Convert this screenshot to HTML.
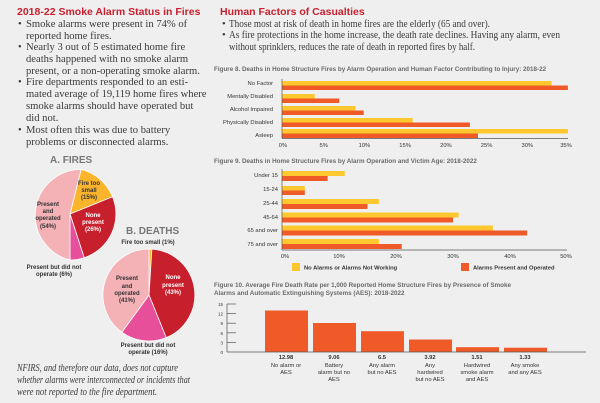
<!DOCTYPE html>
<html><head><meta charset="utf-8"><style>
html,body{margin:0;padding:0;background:#efefef;}
svg{display:block}
.s{font-family:"Liberation Serif",serif;font-size:10.6px;fill:#3a3a3a}
.h{font-family:"Liberation Sans",sans-serif;font-weight:bold;font-size:10.5px;fill:#c8202f}
.f{font-family:"Liberation Sans",sans-serif;font-weight:bold;font-size:6.3px;fill:#6a6a6a}
.l{font-family:"Liberation Sans",sans-serif;font-size:5.8px;fill:#333}
.lb{font-family:"Liberation Sans",sans-serif;font-weight:bold;font-size:5.8px;fill:#333}
.p{font-family:"Liberation Sans",sans-serif;font-weight:bold;font-size:6px;fill:#333}
.pw{font-family:"Liberation Sans",sans-serif;font-weight:bold;font-size:6px;fill:#fff}
.t{font-family:"Liberation Sans",sans-serif;font-weight:bold;font-size:10px;fill:#777}
.i{font-family:"Liberation Serif",serif;font-style:italic;font-size:10.4px;fill:#3a3a3a}
</style></head><body>
<svg width="600" height="403" viewBox="0 0 600 403" xmlns="http://www.w3.org/2000/svg">
<rect width="600" height="403" fill="#efefef"/>
<!-- left text -->
<text class="h" x="17" y="15">2018-22 Smoke Alarm Status in Fires</text>
<g class="s">
<text x="18" y="27">•</text><text x="26" y="27">Smoke alarms were present in 74% of</text>
<text x="26" y="39">reported home fires.</text>
<text x="18" y="50">•</text><text x="26" y="50">Nearly 3 out of 5 estimated home fire</text>
<text x="26" y="62">deaths happened with no smoke alarm</text>
<text x="26" y="74">present, or a non-operating smoke alarm.</text>
<text x="18" y="85">•</text><text x="26" y="85">Fire departments responded to an esti-</text>
<text x="26" y="97">mated average of 19,119 home fires where</text>
<text x="26" y="109">smoke alarms should have operated but</text>
<text x="26" y="121">did not.</text>
<text x="18" y="133">•</text><text x="26" y="133">Most often this was due to battery</text>
<text x="26" y="145">problems or disconnected alarms.</text>
</g>
<!-- Pie A -->
<text class="t" x="50" y="163">A. FIRES</text>
<g stroke="#fff" stroke-width="0.8">
<path d="M70,214 L81.1,169.4 A46,46 0 0,1 112.6,196.8 Z" fill="#fbb52d"/>
<path d="M70,214 L112.6,196.8 A46,46 0 0,1 84.2,257.7 Z" fill="#c81f2d"/>
<path d="M70,214 L84.2,257.7 A46,46 0 0,1 70,260 Z" fill="#e84f9a"/>
<path d="M70,214 L70,260 A46,46 0 0,1 81.1,169.4 Z" fill="#f4b1b6"/>
</g>
<g text-anchor="middle">
<text class="p" x="89" y="185">Fire too</text><text class="p" x="89" y="192">small</text><text class="p" x="89" y="199">(15%)</text>
<text class="pw" x="93" y="217">None</text><text class="pw" x="93" y="224">present</text><text class="pw" x="93" y="231">(26%)</text>
<text class="p" x="48" y="206">Present</text><text class="p" x="48" y="213">and</text><text class="p" x="48" y="220">operated</text><text class="p" x="48" y="228">(54%)</text>
<text class="p" x="54" y="269">Present but did not</text><text class="p" x="54" y="276">operate (6%)</text>
</g>
<!-- Pie B -->
<text class="t" x="126" y="234">B. DEATHS</text>
<text class="p" x="148" y="244" text-anchor="middle">Fire too small (1%)</text>
<g stroke="#fff" stroke-width="0.8">
<path d="M149,295 L149,249 A46,46 0 0,1 151.9,249.1 Z" fill="#fbb52d"/>
<path d="M149,295 L151.9,249.1 A46,46 0 0,1 166.2,337.6 Z" fill="#c81f2d"/>
<path d="M149,295 L166.2,337.6 A46,46 0 0,1 121.9,332.2 Z" fill="#e84f9a"/>
<path d="M149,295 L121.9,332.2 A46,46 0 0,1 149,249 Z" fill="#f4b1b6"/>
</g>
<g text-anchor="middle">
<text class="pw" x="173" y="279">None</text><text class="pw" x="173" y="287">present</text><text class="pw" x="173" y="294">(43%)</text>
<text class="p" x="127" y="280">Present</text><text class="p" x="127" y="288">and</text><text class="p" x="127" y="295">operated</text><text class="p" x="127" y="302">(41%)</text>
<text class="p" x="148" y="347">Present but did not</text><text class="p" x="148" y="354">operate (16%)</text>
</g>
<text class="i" x="17" y="371" textLength="161" lengthAdjust="spacingAndGlyphs">NFIRS, and therefore our data, does not capture</text>
<text class="i" x="17" y="383" textLength="173" lengthAdjust="spacingAndGlyphs">whether alarms were interconnected or incidents that</text>
<text class="i" x="17" y="395" textLength="140" lengthAdjust="spacingAndGlyphs">were not reported to the fire department.</text>

<!-- right text -->
<text class="h" x="220" y="15">Human Factors of Casualties</text>
<g class="s">
<text x="222" y="27">•</text><text x="229" y="27" textLength="261" lengthAdjust="spacingAndGlyphs">Those most at risk of death in home fires are the elderly (65 and over).</text>
<text x="222" y="38">•</text><text x="229" y="38" textLength="331" lengthAdjust="spacingAndGlyphs">As fire protections in the home increase, the death rate declines. Having any alarm, even</text>
<text x="229" y="50" textLength="246" lengthAdjust="spacingAndGlyphs">without sprinklers, reduces the rate of death in reported fires by half.</text>
</g>
<!-- Fig 8 -->
<text class="f" x="214" y="71">Figure 8. Deaths in Home Structure Fires by Alarm Operation and Human Factor Contributing to Injury: 2018-22</text>
<g text-anchor="end" class="l">
<text x="273" y="85">No Factor</text><text x="273" y="98">Mentally Disabled</text><text x="273" y="111">Alcohol Impaired</text><text x="273" y="124">Physically Disabled</text><text x="273" y="137">Asleep</text>
</g>
<g>
<rect x="282" y="81" width="269.5" height="4.5" fill="#fdc82f"/><rect x="282" y="85.5" width="285.9" height="4.5" fill="#ef5a28"/>
<rect x="282" y="94" width="32.7" height="4.5" fill="#fdc82f"/><rect x="282" y="98.5" width="57.2" height="4.5" fill="#ef5a28"/>
<rect x="282" y="106" width="73.5" height="4.5" fill="#fdc82f"/><rect x="282" y="110.5" width="81.7" height="4.5" fill="#ef5a28"/>
<rect x="282" y="118" width="130.7" height="4.5" fill="#fdc82f"/><rect x="282" y="122.5" width="187.9" height="4.5" fill="#ef5a28"/>
<rect x="282" y="129" width="285.9" height="4.5" fill="#fdc82f"/><rect x="282" y="133.5" width="196" height="4.5" fill="#ef5a28"/>
</g>
<line x1="282" y1="79" x2="282" y2="138.5" stroke="#555" stroke-width="0.7"/>
<line x1="282" y1="138.5" x2="568" y2="138.5" stroke="#555" stroke-width="0.7"/>
<g class="l" text-anchor="middle">
<text x="283" y="147">0%</text><text x="323.7" y="147">5%</text><text x="364.4" y="147">10%</text><text x="405.1" y="147">15%</text><text x="445.9" y="147">20%</text><text x="486.6" y="147">25%</text><text x="527.3" y="147">30%</text><text x="566" y="147">35%</text>
</g>
<!-- Fig 9 -->
<text class="f" x="214" y="163">Figure 9. Deaths in Home Structure Fires by Alarm Operation and Victim Age: 2018-2022</text>
<g text-anchor="end" class="l">
<text x="278" y="177">Under 15</text><text x="278" y="191">15-24</text><text x="278" y="205">25-44</text><text x="278" y="219">45-64</text><text x="278" y="232">65 and over</text><text x="278" y="246">75 and over</text>
</g>
<g>
<rect x="282" y="171" width="62.7" height="5" fill="#fdc82f"/><rect x="282" y="176" width="45.6" height="5" fill="#ef5a28"/>
<rect x="282" y="186" width="22.8" height="4.5" fill="#fdc82f"/><rect x="282" y="190.5" width="22.8" height="4.5" fill="#ef5a28"/>
<rect x="282" y="199" width="96.9" height="5" fill="#fdc82f"/><rect x="282" y="204" width="85.5" height="5" fill="#ef5a28"/>
<rect x="282" y="212.5" width="176.7" height="5" fill="#fdc82f"/><rect x="282" y="217.5" width="171" height="5" fill="#ef5a28"/>
<rect x="282" y="225.5" width="210.9" height="5" fill="#fdc82f"/><rect x="282" y="230.5" width="245.1" height="5" fill="#ef5a28"/>
<rect x="282" y="239" width="96.9" height="5" fill="#fdc82f"/><rect x="282" y="244" width="119.7" height="5" fill="#ef5a28"/>
</g>
<line x1="282" y1="169" x2="282" y2="250" stroke="#555" stroke-width="0.7"/>
<line x1="282" y1="250" x2="567" y2="250" stroke="#555" stroke-width="0.7"/>
<g class="l" text-anchor="middle">
<text x="285" y="258">0%</text><text x="339" y="258">10%</text><text x="396" y="258">20%</text><text x="453" y="258">30%</text><text x="510" y="258">40%</text><text x="566" y="258">50%</text>
</g>
<rect x="292" y="263" width="8" height="8" fill="#fdc82f"/>
<text class="lb" x="304" y="269.5">No Alarms or Alarms Not Working</text>
<rect x="461" y="263" width="8" height="8" fill="#ef5a28"/>
<text class="lb" x="473" y="269.5">Alarms Present and Operated</text>
<!-- Fig 10 -->
<text class="f" x="214" y="287">Figure 10. Average Fire Death Rate per 1,000 Reported Home Structure Fires by Presence of Smoke</text>
<text class="f" x="214" y="295">Alarms and Automatic Extinguishing Systems (AES): 2018-2022</text>
<g class="l" text-anchor="end">
<text x="223" y="354" style="font-size:4.5px">0</text><text x="223" y="344.4" style="font-size:4.5px">3</text><text x="223" y="334.8" style="font-size:4.5px">6</text><text x="223" y="325.2" style="font-size:4.5px">9</text><text x="223" y="315.6" style="font-size:4.5px">12</text><text x="223" y="306" style="font-size:4.5px">15</text>
</g>
<g stroke="#555" stroke-width="0.7">
<line x1="227" y1="304" x2="227" y2="352"/>
<line x1="227" y1="304" x2="236" y2="304"/><line x1="227" y1="313.6" x2="236" y2="313.6"/><line x1="227" y1="323.2" x2="236" y2="323.2"/><line x1="227" y1="332.8" x2="236" y2="332.8"/><line x1="227" y1="342.4" x2="236" y2="342.4"/>
</g>
<g fill="#ef5a28">
<rect x="265" y="310.5" width="43" height="41.5"/>
<rect x="313" y="323" width="43" height="29"/>
<rect x="361" y="331.2" width="43" height="20.8"/>
<rect x="409" y="339.5" width="43" height="12.5"/>
<rect x="456" y="347.2" width="43" height="4.8"/>
<rect x="504" y="347.7" width="43" height="4.3"/>
</g>
<line x1="227" y1="352" x2="586" y2="352" stroke="#555" stroke-width="0.7"/>
<g text-anchor="middle">
<g class="lb"><text x="286" y="359">12.98</text><text x="334" y="359">9.06</text><text x="382" y="359">6.5</text><text x="430" y="359">3.92</text><text x="477" y="359">1.51</text><text x="525" y="359">1.33</text></g>
<g class="l">
<text x="286" y="367">No alarm or</text><text x="286" y="374">AES</text>
<text x="334" y="367">Battery</text><text x="334" y="374">alarm but no</text><text x="334" y="381">AES</text>
<text x="382" y="367">Any alarm</text><text x="382" y="374">but no AES</text>
<text x="430" y="367">Any</text><text x="430" y="374">hardwired</text><text x="430" y="381">but no AES</text>
<text x="477" y="367">Hardwired</text><text x="477" y="374">smoke alarm</text><text x="477" y="381">and AES</text>
<text x="525" y="367">Any smoke</text><text x="525" y="374">and any AES</text>
</g></g>
</svg>
</body></html>
